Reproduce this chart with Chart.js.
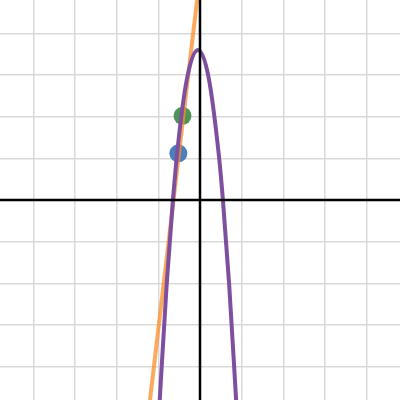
<!DOCTYPE html>
<html><head><style>html,body{margin:0;padding:0;background:#fff}#w{width:400px;height:400px}</style>
<script src="https://cdn.jsdelivr.net/npm/chart.js@4/dist/chart.umd.min.js"></script></head>
<body><div id="w"><canvas id="c"></canvas></div>
<script>
const parabolaX = [-0.97,-0.8,-0.65,-0.5,-0.3,-0.05,0.2,0.45,0.55,0.7,0.87];
const parabolaY = [-4.86,-2.03,0,1.575,2.975,3.6,2.975,1.1,0,-2.03,-4.86];
const lineX = [-1.2,-0.07];
const lineY = [-4.8,4.8];
const greenPt = [-0.42,2.02];
const bluePt = [-0.52,1.12];
const gridTicks = [-4,-3,-2,-1,0,1,2,3,4];
const zip=(a,b)=>a.map((v,i)=>({x:v,y:b[i]}));
const setTicks = s => { s.ticks = gridTicks.map(v=>({value:v})); };
new Chart(document.getElementById('c'),{
type:'scatter',
data:{datasets:[
{data:[{x:-4.8,y:0},{x:4.8,y:0}],showLine:true,borderColor:'#000',borderWidth:2.5,pointRadius:0},
{data:[{x:0,y:-4.8},{x:0,y:4.8}],showLine:true,borderColor:'#000',borderWidth:2.5,pointRadius:0},
{data:zip(parabolaX,parabolaY),showLine:true,borderColor:'#7f4f9f',borderWidth:4,pointRadius:0,cubicInterpolationMode:'monotone'},
{data:zip(lineX,lineY),showLine:true,borderColor:'rgba(250,140,40,0.75)',borderWidth:4,pointRadius:0},
{data:[{x:bluePt[0],y:bluePt[1]}],pointRadius:9,pointBackgroundColor:'#4a7fbb',pointBorderWidth:0},
{data:[{x:greenPt[0],y:greenPt[1]}],pointRadius:9,pointBackgroundColor:'#4e9455',pointBorderWidth:0}
]},
options:{responsive:true,maintainAspectRatio:false,animation:false,layout:{padding:0,autoPadding:false},
plugins:{legend:{display:false},tooltip:{enabled:false}},
scales:{
x:{min:-4.8,max:4.8,afterBuildTicks:setTicks,ticks:{display:false},border:{display:false},grid:{color:'#d9d9d9',lineWidth:1.5,drawTicks:false}},
y:{min:-4.8,max:4.8,afterBuildTicks:setTicks,ticks:{display:false},border:{display:false},grid:{color:'#d9d9d9',lineWidth:1.5,drawTicks:false}}
}}});
</script></body></html>
